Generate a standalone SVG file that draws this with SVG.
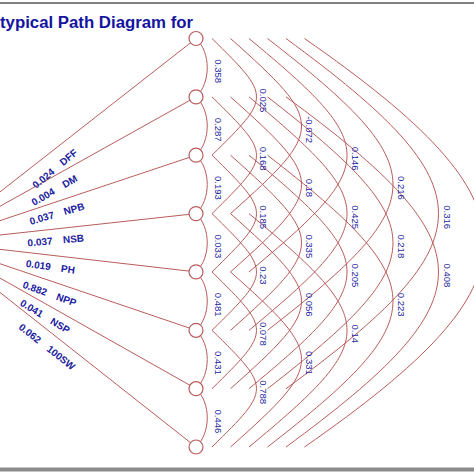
<svg xmlns="http://www.w3.org/2000/svg" width="474" height="474" viewBox="0 0 474 474">
<style>
.ln{fill:none;stroke:#b85c5c;stroke-width:1}
.nd{fill:#fff;stroke:#b85c5c;stroke-width:1.2}
.cl{font-family:"Liberation Sans",Arial,sans-serif;font-size:9.5px;fill:#1e1ea0;text-anchor:middle}
.ll{font-family:"Liberation Sans",Arial,sans-serif;font-size:10px;font-weight:bold;fill:#2020a0}
.tt{font-family:"Liberation Sans",Arial,sans-serif;font-size:16.8px;font-weight:bold;fill:#1414a0}
</style>
<rect width="474" height="474" fill="#fff"/>
<line x1="0" y1="3" x2="474" y2="3" stroke="#555" stroke-width="1.5"/>
<rect x="0" y="467.5" width="474" height="4" fill="#8c8c8c"/>
<text class="tt" x="0" y="27.5">typical Path Diagram for</text>
<g id="connectors">
<line class="ln" x1="196" y1="38.5" x2="-64" y2="242"/>
<line class="ln" x1="196" y1="96.9" x2="-64" y2="242"/>
<line class="ln" x1="196" y1="155.2" x2="-64" y2="242"/>
<line class="ln" x1="196" y1="213.6" x2="-64" y2="242"/>
<line class="ln" x1="196" y1="271.9" x2="-64" y2="242"/>
<line class="ln" x1="196" y1="330.3" x2="-64" y2="242"/>
<line class="ln" x1="196" y1="388.7" x2="-64" y2="242"/>
<line class="ln" x1="196" y1="447" x2="-64" y2="242"/>
<path class="ln" d="M196,38.5 C211,52.5 211,82.9 196,96.9"/>
<path class="ln" d="M196,96.9 C211,110.9 211,141.2 196,155.2"/>
<path class="ln" d="M196,155.2 C211,169.2 211,199.6 196,213.6"/>
<path class="ln" d="M196,213.6 C211,227.6 211,257.9 196,271.9"/>
<path class="ln" d="M196,271.9 C211,285.9 211,316.3 196,330.3"/>
<path class="ln" d="M196,330.3 C211,344.3 211,374.7 196,388.7"/>
<path class="ln" d="M196,388.7 C211,402.7 211,433 196,447"/>
<path class="ln" d="M212,38.5 C271.3,96.9 271.3,96.8 212,155.2"/>
<path class="ln" d="M212,96.9 C271.3,155.3 271.3,155.2 212,213.6"/>
<path class="ln" d="M212,155.2 C271.3,213.6 271.3,213.5 212,271.9"/>
<path class="ln" d="M212,213.6 C271.3,272 271.3,271.9 212,330.3"/>
<path class="ln" d="M212,271.9 C271.3,330.3 271.3,330.3 212,388.7"/>
<path class="ln" d="M212,330.3 C271.3,388.7 271.3,388.6 212,447"/>
<path class="ln" d="M230.5,38.5 C325.2,122.8 325.2,129.3 230.5,213.6"/>
<path class="ln" d="M230.5,96.9 C325.2,181.2 325.2,187.6 230.5,271.9"/>
<path class="ln" d="M230.5,155.2 C325.2,239.5 325.2,246 230.5,330.3"/>
<path class="ln" d="M230.5,213.6 C325.2,297.9 325.2,304.4 230.5,388.7"/>
<path class="ln" d="M230.5,271.9 C325.2,356.2 325.2,362.7 230.5,447"/>
<path class="ln" d="M249,38.5 C379.7,146.6 379.7,163.8 249,271.9"/>
<path class="ln" d="M249,96.9 C379.7,205 379.7,222.2 249,330.3"/>
<path class="ln" d="M249,155.2 C379.7,263.3 379.7,280.6 249,388.7"/>
<path class="ln" d="M249,213.6 C379.7,321.7 379.7,338.9 249,447"/>
<path class="ln" d="M267.5,38.5 C434.8,168.2 434.8,200.6 267.5,330.3"/>
<path class="ln" d="M267.5,96.9 C434.8,226.6 434.8,259 267.5,388.7"/>
<path class="ln" d="M267.5,155.2 C434.8,284.9 434.8,317.3 267.5,447"/>
<path class="ln" d="M286,38.5 C489.3,187.7 489.3,239.5 286,388.7"/>
<path class="ln" d="M286,96.9 C489.3,246.1 489.3,297.8 286,447"/>
<path class="ln" d="M304.5,38.5 C543.8,205 543.8,280.5 304.5,447"/>
</g>
<g id="n1"><circle class="nd" cx="196" cy="38.5" r="7"/></g>
<g id="n2"><circle class="nd" cx="196" cy="96.9" r="7"/></g>
<g id="n3"><circle class="nd" cx="196" cy="155.2" r="7"/></g>
<g id="n4"><circle class="nd" cx="196" cy="213.6" r="7"/></g>
<g id="n5"><circle class="nd" cx="196" cy="271.9" r="7"/></g>
<g id="n6"><circle class="nd" cx="196" cy="330.3" r="7"/></g>
<g id="n7"><circle class="nd" cx="196" cy="388.7" r="7"/></g>
<g id="n8"><circle class="nd" cx="196" cy="447" r="7"/></g>
<g id="left-labels">
<g transform="translate(43.3,178.3) rotate(-40)"><text class="ll" x="-12.5" y="3.6">0.024<tspan dx="10.5">DFF</tspan></text></g>
<g transform="translate(43,196.7) rotate(-30)"><text class="ll" x="-12.5" y="3.6">0.004<tspan dx="10.5">DM</tspan></text></g>
<g transform="translate(41.7,218) rotate(-16)"><text class="ll" x="-12.5" y="3.6">0.037<tspan dx="10.5">NPB</tspan></text></g>
<g transform="translate(40,241.7) rotate(-5)"><text class="ll" x="-12.5" y="3.6">0.037<tspan dx="10.5">NSB</tspan></text></g>
<g transform="translate(38.3,265) rotate(8)"><text class="ll" x="-12.5" y="3.6">0.019<tspan dx="10.5">PH</tspan></text></g>
<g transform="translate(35,288.3) rotate(20)"><text class="ll" x="-12.5" y="3.6">0.882<tspan dx="10.5">NPP</tspan></text></g>
<g transform="translate(31.7,308.3) rotate(31)"><text class="ll" x="-12.5" y="3.6">0.041<tspan dx="10.5">NSP</tspan></text></g>
<g transform="translate(30,333.3) rotate(38)"><text class="ll" x="-12.5" y="3.6">0.062<tspan dx="10.5">100SW</tspan></text></g>
</g>
<g id="arc-labels">
<text class="cl" transform="translate(218,71.2) rotate(90)" y="3.4">0.358</text>
<text class="cl" transform="translate(218,129.6) rotate(90)" y="3.4">0.287</text>
<text class="cl" transform="translate(218,187.9) rotate(90)" y="3.4">0.193</text>
<text class="cl" transform="translate(218,246.3) rotate(90)" y="3.4">0.033</text>
<text class="cl" transform="translate(218,304.6) rotate(90)" y="3.4">0.481</text>
<text class="cl" transform="translate(218,363) rotate(90)" y="3.4">0.431</text>
<text class="cl" transform="translate(218,421.4) rotate(90)" y="3.4">0.446</text>
<text class="cl" transform="translate(263.5,100.4) rotate(90)" y="3.4">0.025</text>
<text class="cl" transform="translate(263.5,158.7) rotate(90)" y="3.4">0.168</text>
<text class="cl" transform="translate(263.5,217.1) rotate(90)" y="3.4">0.185</text>
<text class="cl" transform="translate(263.5,275.4) rotate(90)" y="3.4">0.23</text>
<text class="cl" transform="translate(263.5,333.8) rotate(90)" y="3.4">0.078</text>
<text class="cl" transform="translate(263.5,392.2) rotate(90)" y="3.4">0.788</text>
<text class="cl" transform="translate(309.5,129.6) rotate(90)" y="3.4">-0.072</text>
<text class="cl" transform="translate(309.5,187.9) rotate(90)" y="3.4">0.18</text>
<text class="cl" transform="translate(309.5,246.3) rotate(90)" y="3.4">0.335</text>
<text class="cl" transform="translate(309.5,304.6) rotate(90)" y="3.4">0.056</text>
<text class="cl" transform="translate(309.5,363) rotate(90)" y="3.4">0.331</text>
<text class="cl" transform="translate(355.5,158.7) rotate(90)" y="3.4">0.146</text>
<text class="cl" transform="translate(355.5,217.1) rotate(90)" y="3.4">0.425</text>
<text class="cl" transform="translate(355.5,275.4) rotate(90)" y="3.4">0.205</text>
<text class="cl" transform="translate(355.5,333.8) rotate(90)" y="3.4">0.14</text>
<text class="cl" transform="translate(401.5,187.9) rotate(90)" y="3.4">0.216</text>
<text class="cl" transform="translate(401.5,246.3) rotate(90)" y="3.4">0.218</text>
<text class="cl" transform="translate(401.5,304.6) rotate(90)" y="3.4">0.223</text>
<text class="cl" transform="translate(447.5,217.1) rotate(90)" y="3.4">0.316</text>
<text class="cl" transform="translate(447.5,275.4) rotate(90)" y="3.4">0.408</text>
</g>
</svg>
